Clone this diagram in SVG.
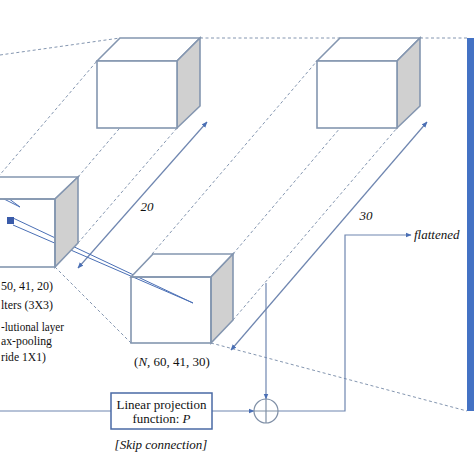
<svg xmlns="http://www.w3.org/2000/svg" width="474" height="474" viewBox="0 0 474 474">
<defs>
<style>
.edge{fill:#fff;stroke:#8496b0;stroke-width:1.6;stroke-linejoin:miter}
.open{fill:none;stroke:#8496b0;stroke-width:1.6}
.side{fill:#d0d0d0;stroke:#8496b0;stroke-width:1.6}
.dash{fill:none;stroke:#8496b0;stroke-width:1;stroke-dasharray:3,2.5}
.conn{fill:none;stroke:#6f86b0;stroke-width:1.2}
.blue{fill:none;stroke:#4a6fb5;stroke-width:1}
.t{font-family:"Liberation Serif",serif;font-size:13px;fill:#111}
.ti{font-family:"Liberation Serif",serif;font-size:13px;font-style:italic;fill:#111}
</style>
<marker id="ah" viewBox="0 0 10 10" refX="9" refY="5" markerWidth="6" markerHeight="6" orient="auto-start-reverse" markerUnits="userSpaceOnUse">
<path d="M0,1 L10,5 L0,9 Z" fill="#4a6fb5"/>
</marker>
</defs>
<rect width="474" height="474" fill="#fff"/>

<g id="connectors">
<path class="dash" d="M0,55 L120,38"/>
<path class="dash" d="M200,38 L340,38 M420,38 L467,38"/>
<path class="dash" d="M-2,177 L97,61"/>
<path class="dash" d="M78,177 L177,61"/>
<path class="dash" d="M78,243 L177,128"/>
<path class="dash" d="M152,254 L317,61"/>
<path class="dash" d="M233,254 L397,61"/>
<path class="dash" d="M233,320 L397,128"/>
<path class="dash" d="M55,267 L131,343"/>
<path class="dash" d="M211,343 L467,411"/>
<path class="conn" d="M78,268 L207,122" marker-start="url(#ah)" marker-end="url(#ah)"/>
<path class="conn" d="M231,350 L427,122" marker-start="url(#ah)" marker-end="url(#ah)"/>
<path class="conn" d="M0,411 L111,411"/>
<path class="conn" d="M212,411 L254,411" marker-end="url(#ah)"/>
<path class="conn" d="M266,283 L266,399" marker-end="url(#ah)"/>
<path class="conn" d="M278,411 L345,411 L345,235 L411,235" marker-end="url(#ah)"/>
<path class="blue" d="M13,218 L193,303 L13,225"/>
<path class="blue" d="M0,192 L20,207 L0,197"/>
</g>

<g id="cubeC">
<path class="edge" d="M-25,199 L-2,177 L78,177 L55,199 Z"/>
<path class="side" d="M55,199 L78,177 L78,243 L55,267 Z"/>
<rect class="open" x="-25" y="199" width="80" height="68"/>
</g>

<g id="cubeA">
<path class="edge" d="M97,61 L120,38 L200,38 L177,61 Z"/>
<path class="side" d="M177,61 L200,38 L200,106 L177,128 Z"/>
<rect class="edge" x="97" y="61" width="80" height="67"/>
</g>

<g id="cubeB">
<path class="edge" d="M317,61 L340,38 L420,38 L397,61 Z"/>
<path class="side" d="M397,61 L420,38 L420,106 L397,128 Z"/>
<rect class="edge" x="317" y="61" width="80" height="67"/>
</g>

<g id="cubeD">
<path class="edge" d="M131,277 L153,254 L233,254 L211,277 Z"/>
<path class="side" d="M211,277 L233,254 L233,320 L211,343 Z"/>
<rect class="open" x="131" y="277" width="80" height="66"/>
</g>

<g id="kernel">
<rect x="7" y="217" width="7" height="7" fill="#3a5ba9"/>
</g>

<g id="labels">
<text class="t" x="1" y="290" textLength="52" lengthAdjust="spacingAndGlyphs">50, 41, 20)</text>
<text class="t" x="1" y="309" textLength="52" lengthAdjust="spacingAndGlyphs">lters (3X3)</text>
<text class="t" x="1" y="331" textLength="63" lengthAdjust="spacingAndGlyphs">-lutional layer</text>
<text class="t" x="1" y="345" textLength="51" lengthAdjust="spacingAndGlyphs">ax-pooling</text>
<text class="t" x="1" y="361" textLength="45" lengthAdjust="spacingAndGlyphs">ride 1X1)</text>
<text class="t" x="172" y="366" text-anchor="middle">(<tspan font-style="italic">N</tspan>, 60, 41, 30)</text>
<text class="ti" x="147" y="211" text-anchor="middle">20</text>
<text class="ti" x="366" y="220" text-anchor="middle">30</text>
<text class="ti" x="414" y="239">flattened</text>
<text class="ti" x="161" y="449" text-anchor="middle">[Skip connection]</text>
</g>

<g id="projection">
<rect x="111" y="393" width="101" height="36" fill="#fff" stroke="#4a6aa5" stroke-width="1.5"/>
<text class="t" x="161.5" y="409" text-anchor="middle">Linear projection</text>
<text class="t" x="161.5" y="423" text-anchor="middle">function: <tspan font-style="italic">P</tspan></text>
</g>

<g id="sum">
<circle cx="266" cy="411" r="12" fill="none" stroke="#7f8fa6" stroke-width="1.2"/>
<path d="M254,411 L278,411 M266,399 L266,423" stroke="#7f8fa6" stroke-width="1.2"/>
</g>

<g id="bar">
<rect x="467" y="38" width="7" height="373" fill="#4472c4"/>
</g>
</svg>
